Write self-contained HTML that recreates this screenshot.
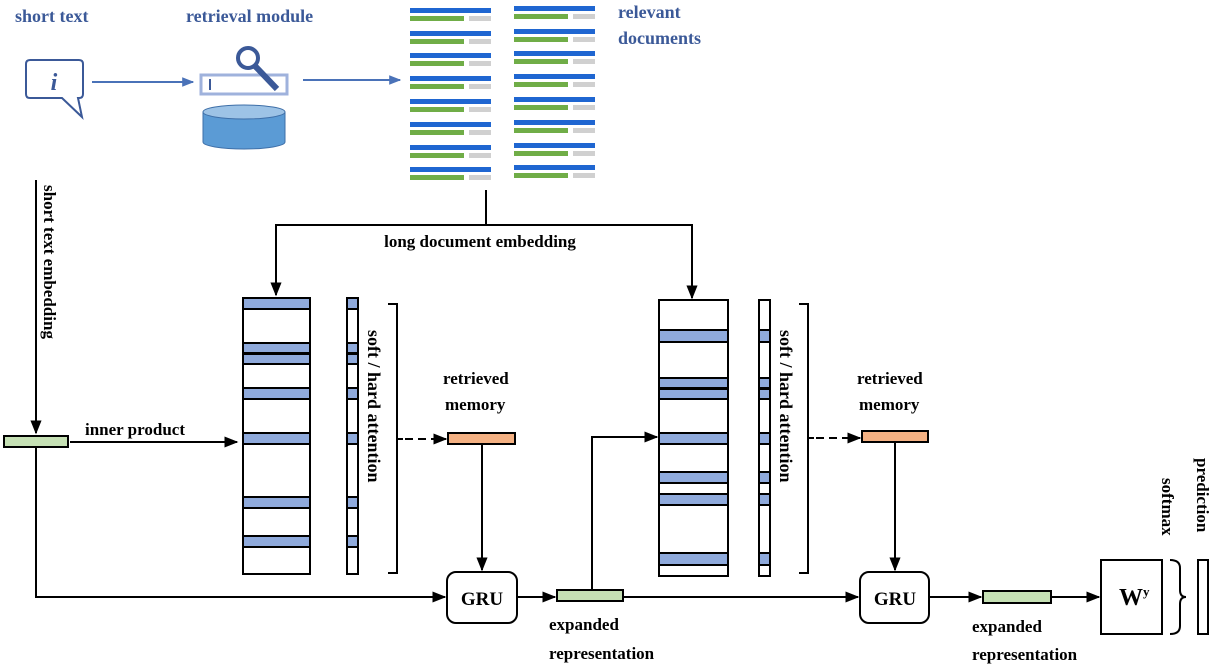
<!DOCTYPE html>
<html><head><meta charset="utf-8"><style>
html,body{margin:0;padding:0;background:#fff;}
svg{display:block}
text{font-family:"Liberation Serif",serif;}
</style></head><body>
<svg width="1221" height="666" viewBox="0 0 1221 666" xmlns="http://www.w3.org/2000/svg">
<defs>
<marker id="a" viewBox="0 0 10 10" refX="9" refY="5" markerWidth="7" markerHeight="7" orient="auto"><path d="M0,1 L10,5 L0,9 z" fill="#000"/></marker>
<marker id="b" viewBox="0 0 10 10" refX="9" refY="5" markerWidth="6" markerHeight="6" orient="auto"><path d="M0,1 L10,5 L0,9 z" fill="#4a72b8"/></marker>
</defs>
<g fill="#3b5998" font-size="18" font-weight="bold">
<text x="15" y="22">short text</text>
<text x="186" y="22">retrieval module</text>
<text x="618" y="18">relevant</text>
<text x="618" y="44">documents</text>
</g>
<path d="M30,60 H79 Q83,60 83,64 V94 Q83,98 79,98 H78 L82,117 L62,98 H30 Q26,98 26,94 V64 Q26,60 30,60 Z" fill="#fff" stroke="#3b5998" stroke-width="2"/>
<text x="54" y="90" font-size="24" font-style="italic" font-weight="bold" fill="#3b5998" text-anchor="middle">i</text>
<line x1="92" y1="82" x2="193" y2="82" stroke="#4a72b8" stroke-width="2" marker-end="url(#b)"/>
<rect x="201" y="75" width="86" height="19" fill="#fff" stroke="#9fb2dc" stroke-width="3"/>
<line x1="210" y1="79" x2="210" y2="90" stroke="#3b5998" stroke-width="2"/>
<line x1="255" y1="66" x2="277" y2="89" stroke="#3b5998" stroke-width="6"/>
<circle cx="248" cy="58" r="10" fill="#fff" stroke="#3b5998" stroke-width="4"/>
<path d="M203,112 V142 A41,7 0 0 0 285,142 V112" fill="#5b9bd5" stroke="#3e6fa8" stroke-width="1"/>
<ellipse cx="244" cy="112" rx="41" ry="7" fill="#9dc3e6" stroke="#3e6fa8" stroke-width="1"/>
<line x1="303" y1="80" x2="400" y2="80" stroke="#4a72b8" stroke-width="2" marker-end="url(#b)"/>
<g id="docs">
<rect x="410" y="8" width="81" height="5" fill="#1f66d1"/><rect x="410" y="16" width="54" height="5" fill="#70ad47"/><rect x="469" y="16" width="22" height="5" fill="#d0d0d0"/>
<rect x="410" y="31" width="81" height="5" fill="#1f66d1"/><rect x="410" y="39" width="54" height="5" fill="#70ad47"/><rect x="469" y="39" width="22" height="5" fill="#d0d0d0"/>
<rect x="410" y="53" width="81" height="5" fill="#1f66d1"/><rect x="410" y="61" width="54" height="5" fill="#70ad47"/><rect x="469" y="61" width="22" height="5" fill="#d0d0d0"/>
<rect x="410" y="76" width="81" height="5" fill="#1f66d1"/><rect x="410" y="84" width="54" height="5" fill="#70ad47"/><rect x="469" y="84" width="22" height="5" fill="#d0d0d0"/>
<rect x="410" y="99" width="81" height="5" fill="#1f66d1"/><rect x="410" y="107" width="54" height="5" fill="#70ad47"/><rect x="469" y="107" width="22" height="5" fill="#d0d0d0"/>
<rect x="410" y="122" width="81" height="5" fill="#1f66d1"/><rect x="410" y="130" width="54" height="5" fill="#70ad47"/><rect x="469" y="130" width="22" height="5" fill="#d0d0d0"/>
<rect x="410" y="145" width="81" height="5" fill="#1f66d1"/><rect x="410" y="153" width="54" height="5" fill="#70ad47"/><rect x="469" y="153" width="22" height="5" fill="#d0d0d0"/>
<rect x="410" y="167" width="81" height="5" fill="#1f66d1"/><rect x="410" y="175" width="54" height="5" fill="#70ad47"/><rect x="469" y="175" width="22" height="5" fill="#d0d0d0"/>
</g>
<use href="#docs" transform="translate(104,-2)"/>
<g stroke="#000" stroke-width="2" fill="none">
<polyline points="486,190 486,225"/>
<polyline points="276,225 692,225"/>
<line x1="276" y1="224" x2="276" y2="295" marker-end="url(#a)"/>
<line x1="692" y1="224" x2="692" y2="298" marker-end="url(#a)"/>
</g>
<text x="480" y="247" font-size="17" font-weight="bold" text-anchor="middle">long document embedding</text>
<line x1="36" y1="180" x2="36" y2="433" stroke="#000" stroke-width="2" marker-end="url(#a)"/>
<text transform="translate(44,185) rotate(90)" font-size="17" font-weight="bold">short text embedding</text>
<rect x="4" y="436" width="64" height="11" fill="#c5e0b4" stroke="#000" stroke-width="2"/>
<text x="85" y="435" font-size="17" font-weight="bold">inner product</text>
<line x1="70" y1="442" x2="237" y2="442" stroke="#000" stroke-width="2" marker-end="url(#a)"/>
<polyline points="36,448 36,597 445,597" fill="none" stroke="#000" stroke-width="2" marker-end="url(#a)"/>
<g stroke="#000" stroke-width="2">
<rect x="243" y="298" width="67" height="276" fill="#fff"/>
<g fill="#8faadc">
<rect x="243" y="298" width="67" height="11"/><rect x="243" y="343" width="67" height="10"/><rect x="243" y="354" width="67" height="10"/>
<rect x="243" y="388" width="67" height="11"/><rect x="243" y="433" width="67" height="11"/><rect x="243" y="497" width="67" height="11"/><rect x="243" y="536" width="67" height="11"/>
</g>
<rect x="347" y="298" width="11" height="276" fill="#fff"/>
<g fill="#8faadc">
<rect x="347" y="298" width="11" height="11"/><rect x="347" y="343" width="11" height="10"/><rect x="347" y="354" width="11" height="10"/>
<rect x="347" y="388" width="11" height="11"/><rect x="347" y="433" width="11" height="11"/><rect x="347" y="497" width="11" height="11"/><rect x="347" y="536" width="11" height="11"/>
</g>
<path d="M388,304 H397 V573 H388 M397,439 H403" fill="none"/>
<line x1="405" y1="439" x2="446" y2="439" stroke-dasharray="8,5" marker-end="url(#a)"/>
<rect x="448" y="433" width="67" height="11" fill="#f4b183"/>
<line x1="482" y1="444" x2="482" y2="570" marker-end="url(#a)"/>
<rect x="447" y="572" width="70" height="51" rx="9" fill="#fff"/>
<line x1="517" y1="597" x2="555" y2="597" marker-end="url(#a)"/>
<rect x="557" y="590" width="66" height="11" fill="#c5e0b4"/>
<polyline points="592,590 592,437 657,437" fill="none" marker-end="url(#a)"/>
<line x1="623" y1="597" x2="858" y2="597" marker-end="url(#a)"/>
</g>
<text transform="translate(368,330) rotate(90)" font-size="18" font-weight="bold">soft / hard attention</text>
<text x="443" y="384" font-size="17" font-weight="bold">retrieved</text>
<text x="445" y="410" font-size="17" font-weight="bold">memory</text>
<text x="482" y="605" font-size="19" font-weight="bold" text-anchor="middle">GRU</text>
<text x="549" y="630" font-size="17" font-weight="bold">expanded</text>
<text x="549" y="659" font-size="17" font-weight="bold">representation</text>
<g stroke="#000" stroke-width="2">
<rect x="659" y="300" width="69" height="276" fill="#fff"/>
<g fill="#8faadc">
<rect x="659" y="330" width="69" height="12"/><rect x="659" y="378" width="69" height="10"/><rect x="659" y="389" width="69" height="10"/>
<rect x="659" y="433" width="69" height="11"/><rect x="659" y="472" width="69" height="11"/><rect x="659" y="494" width="69" height="11"/><rect x="659" y="553" width="69" height="12"/>
</g>
<rect x="759" y="300" width="11" height="276" fill="#fff"/>
<g fill="#8faadc">
<rect x="759" y="330" width="11" height="12"/><rect x="759" y="378" width="11" height="10"/><rect x="759" y="389" width="11" height="10"/>
<rect x="759" y="433" width="11" height="11"/><rect x="759" y="472" width="11" height="11"/><rect x="759" y="494" width="11" height="11"/><rect x="759" y="553" width="11" height="12"/>
</g>
<path d="M799,304 H808 V573 H799 M808,438 H814" fill="none"/>
<line x1="816" y1="438" x2="860" y2="438" stroke-dasharray="8,5" marker-end="url(#a)"/>
<rect x="862" y="431" width="66" height="11" fill="#f4b183"/>
<line x1="895" y1="442" x2="895" y2="570" marker-end="url(#a)"/>
<rect x="860" y="572" width="69" height="51" rx="9" fill="#fff"/>
<line x1="929" y1="597" x2="981" y2="597" marker-end="url(#a)"/>
<rect x="983" y="591" width="68" height="12" fill="#c5e0b4"/>
<line x1="1051" y1="597" x2="1099" y2="597" marker-end="url(#a)"/>
<rect x="1101" y="560" width="61" height="74" fill="#fff"/>
<path d="M1170,560 Q1180,560 1180,568 V590 Q1180,597 1186,597 Q1180,597 1180,604 V626 Q1180,634 1170,634" fill="none"/>
<rect x="1198" y="560" width="10" height="74" fill="#fff"/>
</g>
<text transform="translate(780,330) rotate(90)" font-size="18" font-weight="bold">soft / hard attention</text>
<text x="857" y="384" font-size="17" font-weight="bold">retrieved</text>
<text x="859" y="410" font-size="17" font-weight="bold">memory</text>
<text x="895" y="605" font-size="19" font-weight="bold" text-anchor="middle">GRU</text>
<text x="972" y="632" font-size="17" font-weight="bold">expanded</text>
<text x="972" y="660" font-size="17" font-weight="bold">representation</text>
<text x="1119" y="605" font-size="24" font-weight="bold">W<tspan font-size="13" dy="-9">y</tspan></text>
<text transform="translate(1162,478) rotate(90)" font-size="17" font-weight="bold">softmax</text>
<text transform="translate(1197,458) rotate(90)" font-size="17" font-weight="bold">prediction</text>
</svg>
</body></html>
